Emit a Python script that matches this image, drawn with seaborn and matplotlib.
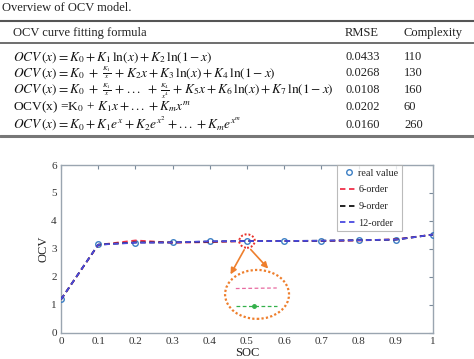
import numpy as np
import pandas as pd
import seaborn as sns
import matplotlib
matplotlib.use("Agg")
import matplotlib.pyplot as plt
from matplotlib.patches import Ellipse, FancyArrowPatch
from matplotlib.lines import Line2D

# ---------------- data ----------------
table_title = "Overview of OCV model."
table_header = ["OCV curve fitting formula", "RMSE", "Complexity"]
# each formula: list of (kind, text) pieces; 'f' pieces are small stacked fractions
formulas = [
    [("m", r"$OCV\,(x) = K_0 + K_1\,\ln(x) + K_2\,\ln(1-x)$")],
    [("m", r"$OCV\,(x) = K_0\ +$"), ("f", r"$\frac{K_1}{x}$"),
     ("m", r"$+\ K_2x + K_3\,\ln(x) + K_4\,\ln(1-x)$")],
    [("m", r"$OCV\,(x) = K_0\ +$"), ("f", r"$\frac{K_1}{x}$"), ("m", r"$+\ ...\ +$"),
     ("f", r"$\frac{K_4}{x^4}$"), ("m", r"$+\ K_5x + K_6\,\ln(x) + K_7\,\ln(1-x)$")],
    [("m", r"OCV(x) =K$_0$ + $K_1x + ... + K_mx^m$")],
    [("m", r"$OCV\,(x) = K_0 + K_1e^x + K_2e^{x^2} + ... + K_me^{x^m}$")],
]
rmse = ["0.0433", "0.0268", "0.0108", "0.0202", "0.0160"]
complexity = ["110", "130", "160", "60", "260"]

soc = [0.0, 0.1, 0.2, 0.3, 0.4, 0.5, 0.6, 0.7, 0.8, 0.9, 1.0]
real_value = [1.19, 3.16, 3.21, 3.23, 3.27, 3.28, 3.28, 3.29, 3.31, 3.33, 3.51]
order6 = [1.19, 3.14, 3.30, 3.22, 3.24, 3.28, 3.28, 3.28, 3.30, 3.34, 3.51]
order9 = [1.19, 3.15, 3.23, 3.23, 3.26, 3.28, 3.28, 3.29, 3.31, 3.33, 3.51]
order12 = [1.19, 3.15, 3.22, 3.23, 3.27, 3.28, 3.28, 3.29, 3.31, 3.33, 3.51]

# zoom-in annotation (magnified view)
zoom_seg_x = [0.47, 0.58]
zoom_red_y = [1.58, 1.60]
zoom_green_y = [0.95, 0.95]
zoom_green_dot = [0.52, 0.95]

# ---------------- style ----------------
sns.set_style("white")
plt.rcParams['font.family'] = ['Liberation Serif', 'DejaVu Serif']
plt.rcParams['mathtext.fontset'] = 'stix'

W, H = 474, 359
fig = plt.figure(figsize=(W / 100, H / 100), dpi=100)
renderer = fig.canvas.get_renderer()

def fy(y):
    return 1 - y / H

def fx(x):
    return x / W

# ---------------- table ----------------
fs = 9
ffs = 9.6
frac_fs = 7.2
fig.text(fx(2), fy(8), table_title, fontsize=fs, va='center', ha='left', color='#222')
fig.add_artist(Line2D([0, 1], [fy(20.5), fy(20.5)], transform=fig.transFigure, color='#555', lw=1.5))
fig.text(fx(13), fy(33), table_header[0], fontsize=fs, va='center', color='#222')
fig.text(fx(345), fy(33), table_header[1], fontsize=fs, va='center', color='#222')
fig.text(fx(404), fy(33), table_header[2], fontsize=fs, va='center', color='#222')
fig.add_artist(Line2D([0, 1], [fy(43), fy(43)], transform=fig.transFigure, color='#555', lw=1.2))
row_base = [60.5, 76.5, 93, 110, 128.5]
for yb_, parts, r, c in zip(row_base, formulas, rmse, complexity):
    xpos = 13.0
    for kind, s in parts:
        size = ffs if kind == "m" else frac_fs
        t = fig.text(fx(xpos), fy(yb_), s, fontsize=size, va='baseline', ha='left', color='#111')
        w = t.get_window_extent(renderer).width
        xpos += w + 2.5
    fig.text(fx(345), fy(yb_), r, fontsize=fs, va='baseline', ha='left', color='#222')
    fig.text(fx(404), fy(yb_), c, fontsize=fs, va='baseline', ha='left', color='#222')
fig.add_artist(Line2D([0, 1], [fy(136), fy(136)], transform=fig.transFigure, color='#777', lw=2.2))

# ---------------- chart ----------------
x0, x1, yt, yb = 61, 433, 165, 332.7
ax = fig.add_axes([fx(x0), fy(yb), (x1 - x0) / W, (yb - yt) / H])

df_real = pd.DataFrame({"SOC": soc, "OCV": real_value})
df_fit = pd.DataFrame({
    "SOC": soc * 3,
    "OCV": order6 + order9 + order12,
    "model": ["6-order"] * len(soc) + ["9-order"] * len(soc) + ["12-order"] * len(soc),
})
palette = {"6-order": "#F0304A", "9-order": "#111111", "12-order": "#4A4AE0"}

ax.plot(df_real["SOC"], df_real["OCV"], ls='none', marker='o', ms=4,
        mfc='none', mec='#3C7FC4', mew=1.0, label='real value', zorder=3)
for m in ["6-order", "9-order", "12-order"]:
    d = df_fit[df_fit["model"] == m]
    sns.lineplot(data=d, x="SOC", y="OCV", ax=ax, color=palette[m],
                 linestyle=(0, (3, 2)), lw=1.3, label=m, zorder=4)

# zoom annotation
ax.add_patch(Ellipse((0.5, 3.28), 0.042, 0.48, fill=False, ec='#E8302A', ls=(0, (1, 1)), lw=1.4, zorder=5))
ax.add_patch(Ellipse((0.527, 1.37), 0.172, 1.75, fill=False, ec='#EE7F2D', ls=(0, (1, 1)), lw=1.6, zorder=5))
ax.add_patch(FancyArrowPatch((0.496, 3.05), (0.452, 2.0), arrowstyle='-|>', mutation_scale=9,
                             color='#EE7F2D', lw=1.2, zorder=5))
ax.add_patch(FancyArrowPatch((0.505, 3.05), (0.562, 2.22), arrowstyle='-|>', mutation_scale=9,
                             color='#EE7F2D', lw=1.2, zorder=5))
ax.plot(zoom_seg_x, zoom_red_y, color='#E86AA0', ls=(0, (3, 2)), lw=0.9, zorder=5)
ax.plot(zoom_seg_x, zoom_green_y, color='#33B04A', ls=(0, (3, 2)), lw=0.9, zorder=5)
ax.plot([zoom_green_dot[0]], [zoom_green_dot[1]], marker='o', ms=2.5, color='#33B04A', zorder=5)

ax.set_xlim(0, 1)
ax.set_ylim(0, 6)
ax.set_xticks(np.arange(0, 1.01, 0.1))
ax.set_xticklabels(["0", "0.1", "0.2", "0.3", "0.4", "0.5", "0.6", "0.7", "0.8", "0.9", "1"])
ax.set_yticks(range(0, 7))
ax.set_xlabel("SOC", fontsize=9, labelpad=1, color='#222')
ax.set_ylabel("OCV", fontsize=9, labelpad=1.5, color='#222')
ax.tick_params(direction='in', length=3, width=0.8, color='#7a8a9a', labelsize=8,
               labelcolor='#333', top=True, right=True, pad=3)
for s in ax.spines.values():
    s.set_color('#9aa5b0')
    s.set_linewidth(1.0)

leg = ax.legend(loc='upper right', bbox_to_anchor=(0.917, 1.0), fontsize=7.3, frameon=True,
                fancybox=False, edgecolor='#aaaaaa', handlelength=1.7, handletextpad=0.1,
                borderpad=0.35, labelspacing=0.75, borderaxespad=0.0)
leg.get_frame().set_linewidth(0.8)

fig.savefig("out.png", dpi=100)
